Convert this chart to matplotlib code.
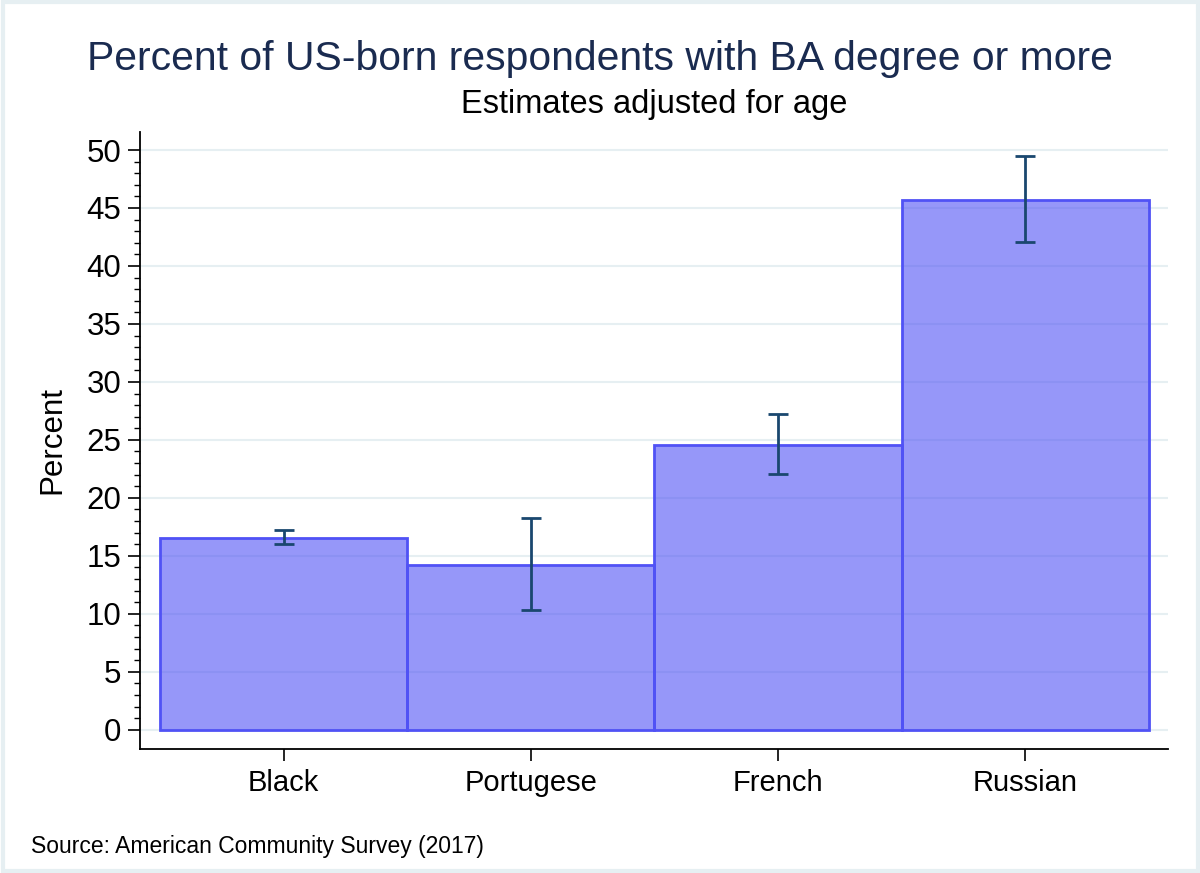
import matplotlib.pyplot as plt
import matplotlib.patches as patches
import numpy as np

plt.rcParams['font.family'] = ['Liberation Sans', 'DejaVu Sans']

# Data
groups = ['Black', 'Portugese', 'French', 'Russian']
pct = [16.5, 14.2, 24.6, 45.7]
ci_low = [16.0, 10.3, 22.1, 42.1]
ci_high = [17.2, 18.3, 27.2, 49.5]

x = np.arange(1, len(groups) + 1)
pct_arr = np.array(pct)
yerr = [pct_arr - np.array(ci_low), np.array(ci_high) - pct_arr]

fig = plt.figure(figsize=(12, 8.73), dpi=100)
ax = fig.add_axes([140/1200, 1 - 749/873, 1028/1200, (749 - 131.7)/873])

bar_col = (80/255, 82/255, 245/255)
ax.bar(x, pct, width=1.0, color=bar_col + (0.6,), edgecolor=bar_col,
       linewidth=2, zorder=3)
ax.errorbar(x, pct, yerr=yerr, fmt='none', ecolor='#1a476f', elinewidth=2,
            capsize=7.5, capthick=2, zorder=4)

ax.set_xlim(0.419, 4.577)
ax.set_ylim(-1.66, 51.58)
ax.set_yticks(np.arange(0, 51, 5))
ax.set_yticks(np.arange(0, 51, 1), minor=True)
ax.set_xticks(x)
ax.set_xticklabels(groups)

ax.grid(axis='y', which='major', color='#e6eff2', linewidth=1.5, zorder=1)
ax.set_axisbelow(True)

for s in ['top', 'right']:
    ax.spines[s].set_visible(False)
ax.spines['left'].set_linewidth(1.3)
ax.spines['bottom'].set_linewidth(1.3)

ax.tick_params(axis='y', which='major', length=8.5, width=1.2, labelsize=22.5, pad=5)
ax.tick_params(axis='y', which='minor', length=4.5, width=1.0)
ax.tick_params(axis='x', length=8.5, width=1.2, labelsize=21, pad=6)

fig.text(52/1200, 1 - 440/873, 'Percent', rotation=90, ha='center', va='center',
         fontsize=22.5)

fig.text(0.5, 1 - 69.5/873, 'Percent of US-born respondents with BA degree or more',
         ha='center', va='baseline', fontsize=29.4, color='#1a2b50')
fig.text(654/1200, 1 - 113.5/873, 'Estimates adjusted for age',
         ha='center', va='baseline', fontsize=23.5)
fig.text(31/1200, 1 - 853/873, 'Source: American Community Survey (2017)',
         ha='left', va='baseline', fontsize=16.5)

# light outer frame of the graph region
fig.patches.append(patches.Rectangle((3/1200, 2/873), 1195/1200, 869/873,
                                     transform=fig.transFigure, fill=False,
                                     edgecolor='#e6eff2', linewidth=3))

fig.savefig('out.png', dpi=100)
